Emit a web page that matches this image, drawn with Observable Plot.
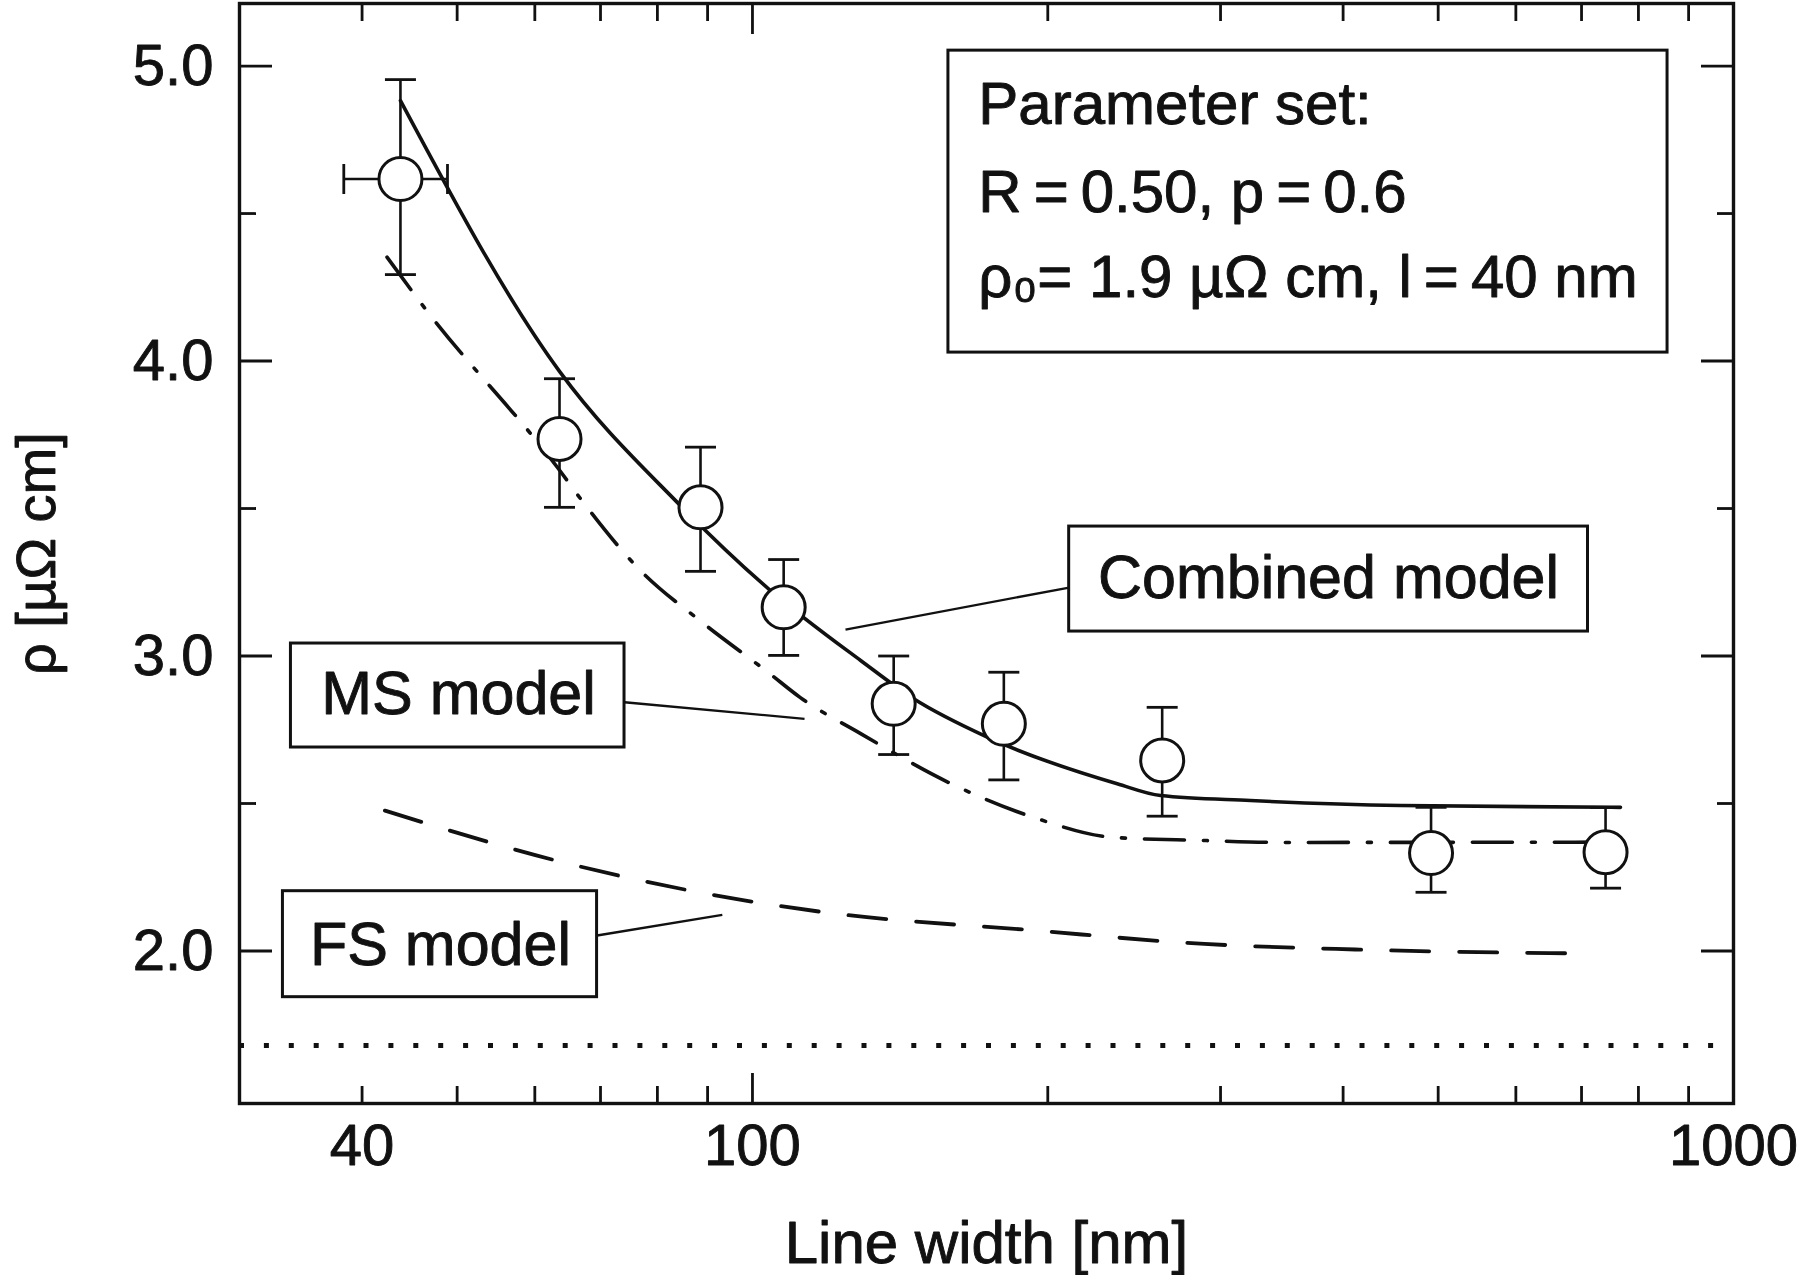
<!DOCTYPE html>
<html><head><meta charset="utf-8">
<script src="https://cdn.jsdelivr.net/npm/d3@7"></script>
<script src="https://cdn.jsdelivr.net/npm/@observablehq/plot@0.6"></script>
<style>html,body{margin:0;padding:0;background:#fff;overflow:hidden}</style>
</head><body><div id="chart"></div>
<script>
// ---- measured data ----
const lineWidth = [43.77, 63.58, 88.52, 107.6, 139.3, 180.4, 261.6, 491.7, 740.6];
const rho       = [4.617, 3.736, 3.504, 3.165, 2.838, 2.770, 2.646, 2.332, 2.335];
const rhoLow    = [4.293, 3.504, 3.287, 3.002, 2.666, 2.580, 2.457, 2.199, 2.213];
const rhoHigh   = [4.954, 3.940, 3.708, 3.327, 3.000, 2.945, 2.826, 2.487, 2.487];
const widthLow  = [38.32];   // horizontal error bar, first point only
const widthHigh = [48.88];

const combinedX = [43.77, 63.58, 83.87, 104.3, 128.9, 146.0, 173.5, 235.4, 260.6, 321.8, 458, 767];
const combinedY = [4.883, 3.965, 3.520, 3.222, 2.985, 2.855, 2.725, 2.567, 2.527, 2.510, 2.493, 2.487];

const msX = [42.41, 46.2, 63.28, 67.26, 76.35, 88.94, 103.8, 111.9, 128.9, 159.2, 193.4, 233.4, 286.2, 347.8, 745];
const msY = [4.352, 4.185, 3.639, 3.520, 3.300, 3.113, 2.944, 2.859, 2.737, 2.568, 2.453, 2.385, 2.375, 2.368, 2.369];

const fsX = [42.2, 63.0, 86.3, 119.2, 193.3, 288.8, 411.5, 686];
const fsY = [2.476, 2.307, 2.205, 2.130, 2.070, 2.024, 2.005, 1.992];

const bulkRho = [1.68];

const xTickLabels = [40, 100, 1000];
const xTicksMinor = [40, 50, 60, 70, 80, 90, 200, 300, 400, 500, 600, 700, 800, 900];
const xTicksMajor = [100];
const yTickLabels = [2, 3, 4, 5];
const yTicksMinor = [2.5, 3.5, 4.5];

// annotations (data coordinates)
const labelText = ["Combined model", "MS model", "FS model"];
const labelX = [386.5, 50.16, 48.08];
const labelY = [3.198, 2.805, 1.951];
const boxX1 = [210.3, 33.85, 33.22, 158.4];
const boxX2 = [710.7, 74.06, 69.44, 856.6];
const boxY1 = [3.0829, 2.6898, 1.8434, 4.0286];
const boxY2 = [3.4388, 3.0423, 2.2027, 5.0522];
const leaderX1 = [124.4, 74.06, 69.44];
const leaderY1 = [3.0897, 2.8433, 2.0525];
const leaderX2 = [210.3, 113.0, 93.17];
const leaderY2 = [3.2321, 2.787, 2.1227];
const paramLines = ["Parameter set:", "R\u2009=\u20090.50, p\u2009=\u20090.6", "\u03c1\u2080= 1.9 \u00b5\u03a9 cm, l\u2009=\u200940 nm"];
const paramX = 169.9;
const paramY = [4.8038, 4.5041, 4.2160];
const xTitle = "Line width [nm]";
const yTitle = "\u03c1 [\u00b5\u03a9 cm]";
const yTitleAt = [30, 3.347];

// ---- tables ----
const pts = lineWidth.map((w, i) => ({w, r: rho[i], lo: rhoLow[i], hi: rhoHigh[i]}));
const xerr = widthLow.map((lo, i) => ({lo, hi: widthHigh[i], r: rho[i]}));
const combined = combinedX.map((x, i) => ({x, y: combinedY[i]}));
const ms = msX.map((x, i) => ({x, y: msY[i]}));
const fs = fsX.map((x, i) => ({x, y: fsY[i]}));
const labels = labelText.map((t, i) => ({t, x: labelX[i], y: labelY[i]}));
const boxes = boxX1.map((x1, i) => ({x1, x2: boxX2[i], y1: boxY1[i], y2: boxY2[i]}));
const leaders = leaderX1.map((x1, i) => ({x1, y1: leaderY1[i], x2: leaderX2[i], y2: leaderY2[i]}));
const params = paramLines.map((t, i) => ({t, y: paramY[i]}));

const hCap = {draw(ctx) { ctx.moveTo(-15.5, 0); ctx.lineTo(15.5, 0); }};
const vCap = {draw(ctx) { ctx.moveTo(0, -15); ctx.lineTo(0, 15); }};

const ink = "#111";
const tickW = 2.8;
const txt = {fill: ink, stroke: ink, strokeWidth: 0.9};

const chart = Plot.plot({
  width: 1800,
  height: 1275,
  marginLeft: 239,
  marginRight: 67,
  marginTop: 3,
  marginBottom: 172,
  style: {fontFamily: "'Liberation Sans', Arial, Helvetica, sans-serif", background: "white", color: ink},
  x: {type: "log", domain: [30, 1000]},
  y: {type: "linear", domain: [1.483, 5.212]},
  marks: [
    Plot.ruleY(bulkRho, {stroke: ink, strokeWidth: 5, strokeDasharray: "5,19.9"}),
    Plot.line(fs, {x: "x", y: "y", stroke: ink, strokeWidth: 3.8, strokeDasharray: "38,30", curve: "monotone-x"}),
    Plot.line(ms, {x: "x", y: "y", stroke: ink, strokeWidth: 3.6, strokeDasharray: "40,19,4,19", curve: "monotone-x"}),
    Plot.line(combined, {x: "x", y: "y", stroke: ink, strokeWidth: 3.6, curve: "monotone-x"}),
    Plot.ruleX(pts, {x: "w", y1: "lo", y2: "hi", stroke: ink, strokeWidth: 2.6}),
    Plot.dot(pts, {x: "w", y: "lo", symbol: hCap, fill: "none", stroke: ink, strokeWidth: 2.8}),
    Plot.dot(pts, {x: "w", y: "hi", symbol: hCap, fill: "none", stroke: ink, strokeWidth: 2.8}),
    Plot.ruleY(xerr, {y: "r", x1: "lo", x2: "hi", stroke: ink, strokeWidth: 2.6}),
    Plot.dot(xerr, {x: "lo", y: "r", symbol: vCap, fill: "none", stroke: ink, strokeWidth: 2.8}),
    Plot.dot(xerr, {x: "hi", y: "r", symbol: vCap, fill: "none", stroke: ink, strokeWidth: 2.8}),
    Plot.dot(pts, {x: "w", y: "r", r: 21.5, fill: "white", stroke: ink, strokeWidth: 3}),
    Plot.link(leaders, {x1: "x1", y1: "y1", x2: "x2", y2: "y2", stroke: ink, strokeWidth: 2.3}),
    Plot.rect(boxes, {x1: "x1", x2: "x2", y1: "y1", y2: "y2", fill: "white", stroke: ink, strokeWidth: 3}),
    Plot.text(labels, {x: "x", y: "y", text: "t", fontSize: 61, textAnchor: "middle", lineAnchor: "bottom", ...txt}),
    Plot.text(params, {x: () => paramX, y: "y", text: "t", fontSize: 60, textAnchor: "start", lineAnchor: "bottom", ...txt}),
    Plot.frame({stroke: ink, strokeWidth: 3.4}),
    // ticks (inward) on all four sides
    Plot.axisY({anchor: "left", ticks: yTickLabels, tickSize: -33, fill: "none", label: null, stroke: ink, strokeWidth: tickW}),
    Plot.axisY({anchor: "left", ticks: yTicksMinor, tickSize: -17, fill: "none", label: null, stroke: ink, strokeWidth: tickW}),
    Plot.axisY({anchor: "right", ticks: yTickLabels, tickSize: -33, fill: "none", label: null, stroke: ink, strokeWidth: tickW}),
    Plot.axisY({anchor: "right", ticks: yTicksMinor, tickSize: -17, fill: "none", label: null, stroke: ink, strokeWidth: tickW}),
    Plot.axisX({anchor: "bottom", ticks: xTicksMajor, tickSize: -30, fill: "none", label: null, stroke: ink, strokeWidth: tickW}),
    Plot.axisX({anchor: "bottom", ticks: xTicksMinor, tickSize: -17, fill: "none", label: null, stroke: ink, strokeWidth: tickW}),
    Plot.axisX({anchor: "top", ticks: xTicksMajor, tickSize: -30, fill: "none", label: null, stroke: ink, strokeWidth: tickW}),
    Plot.axisX({anchor: "top", ticks: xTicksMinor, tickSize: -17, fill: "none", label: null, stroke: ink, strokeWidth: tickW}),
    // tick labels
    Plot.axisY({anchor: "left", ticks: yTickLabels, tickSize: 0, tickPadding: 26, tickFormat: ".1f", fontSize: 58, label: null, fill: ink, textStroke: ink, textStrokeWidth: 0.9}),
    Plot.axisX({anchor: "bottom", ticks: xTickLabels, tickSize: 0, tickPadding: 20, tickFormat: "d", fontSize: 58, label: null, fill: ink, textStroke: ink, textStrokeWidth: 0.9}),
    // axis titles
    Plot.text([xTitle], {text: d => d, frameAnchor: "bottom", dy: 159, fontSize: 60, lineAnchor: "bottom", ...txt}),
    Plot.text([yTitle], {text: d => d, x: () => yTitleAt[0], y: () => yTitleAt[1], dx: -185, rotate: -90, fontSize: 56, textAnchor: "middle", lineAnchor: "bottom", ...txt})
  ]
});
document.getElementById("chart").appendChild(chart);
</script>
</body></html>
